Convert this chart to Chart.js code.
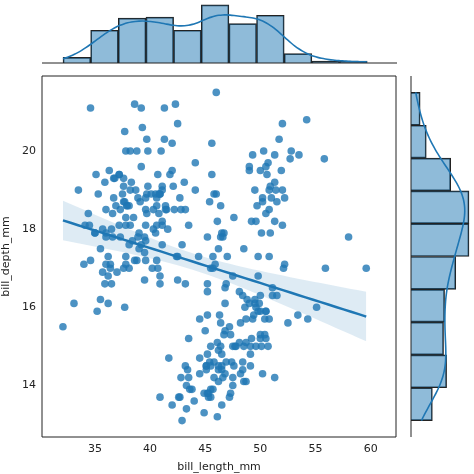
<!DOCTYPE html>
<html>
<head>
<meta charset="utf-8">
<script src="https://cdn.jsdelivr.net/npm/chart.js@4"></script>
<style>
  body { margin: 0; background: #fff; }
  .box { position: absolute; }
</style>
</head>
<body>
<div class="box" style="left:0;top:0;width:400px;height:70px"><canvas id="top"></canvas></div>
<div class="box" style="left:0;top:66px;width:400px;height:408px"><canvas id="main"></canvas></div>
<div class="box" style="left:400px;top:66px;width:74px;height:408px"><canvas id="right"></canvas></div>
<script>
// penguins: bill_length_mm, bill_depth_mm (pairs)
var billLength = [39.1,39.5,40.3,36.7,39.3,38.9,39.2,34.1,42,37.8,37.8,41.1,38.6,34.6,36.6,38.7,42.5,34.4,46,37.8,37.7,35.9,38.2,38.8,35.3,40.6,40.5,37.9,40.5,39.5,37.2,39.5,40.9,36.4,39.2,38.8,42.2,37.6,39.8,36.5,40.8,36,44.1,37,39.6,41.1,37.5,36,42.3,39.6,40.1,35,42,34.5,41.4,39,40.6,36.5,37.6,35.7,41.3,37.6,41.1,36.4,41.6,35.5,41.1,35.9,41.8,33.5,39.7,39.6,45.8,35.5,42.8,40.9,37.2,36.2,42.1,34.6,42.9,36.7,35.1,37.3,41.3,36.3,36.9,38.3,38.9,35.7,41.1,34,39.6,36.2,40.8,38.1,40.3,33.1,43.2,35,41,37.7,37.8,37.9,39.7,38.6,38.2,38.1,37.2,38.2,32.1,40.6,36.6,36,37.8,36,41.5,38.1,40.2,39.8,35.2,44.1,39.2,43.1,37.3,41.4,36.2,40.7,40.6,37.7,40.7,39,38.4,39.7,40.9,36.8,37.6,45.6,42.7,38.5,39.6,
46.5,50,51.3,45.4,52.7,45.2,46.1,51.3,46,51.3,46.6,51.7,47,52,45.9,50.5,50.3,58,46.4,49.2,42.4,48.5,43.2,50.6,46.7,52,50.5,49.5,46.4,52.8,40.9,54.2,42.5,51,49.7,47.5,47.6,52,46.9,53.5,49,46.2,50.9,45.5,50.9,50.8,50.1,49,51.5,49.8,48.1,51.4,45.7,50.7,42.5,52.2,45.2,49.3,50.2,45.6,51.9,46.8,45.7,55.8,43.5,49.6,50.8,50.2,
46.1,50,48.7,50,47.6,46.5,45.4,46.7,43.3,46.8,40.9,49,45.5,48.4,45.8,49.3,42,49.2,46.2,48.7,50.2,45.1,46.5,46.3,42.9,46.1,44.5,47.8,48.2,50,47.3,42.8,45.1,59.6,49.1,48.4,42.6,44.4,44,48.7,42.7,49.6,45.3,49.6,50.5,43.6,45.5,50.5,44.9,45.2,46.6,48.5,45.1,50.1,46.5,45,43.8,45.5,43.2,50.4,45.3,46.2,45.7,54.3,45.8,49.8,46.2,49.5,43.5,50.7,47.7,46.4,48.2,46.5,46.4,48.6,47.5,51.1,45.2,45.2,49.1,52.5,47.4,50,44.9,50.8,43.4,51.3,47.5,52.1,47.5,52.2,45.5,49.5,44.5,50.8,49.4,46.9,48.4,51.1,48.5,55.9,47.2,49.1,47.3,46.8,41.7,53.4,43.3,48.1,50.5,49.8,43.5,51.5,46.2,55.1,44.5,48.8,47.2,46.8,50.4,45.2,49.9];
var billDepth = [18.7,17.4,18,19.3,20.6,17.8,19.6,18.1,20.2,17.1,17.3,17.6,21.2,21.1,17.8,19,20.7,18.4,21.5,18.3,18.7,19.2,18.1,17.2,18.9,18.6,17.9,18.6,18.9,16.7,18.1,17.8,18.9,17,21.1,20,18.5,19.3,19.1,18,18.4,18.5,19.7,16.9,18.8,19,18.9,17.9,21.2,17.7,18.9,17.9,19.5,18.1,18.6,17.5,18.8,16.6,19.1,16.9,21.1,17,18.2,17.1,18,16.2,19.1,16.6,19.4,19,18.4,17.2,18.9,17.5,18.5,16.8,19.4,16.1,19.1,17.2,17.6,18.8,19.4,17.8,20.3,19.5,18.6,19.2,18.8,18,18.1,17.1,18.1,17.3,18.9,18.6,18.5,16.1,18.5,17.9,20,16,20,18.6,18.9,17.2,20,17,19.4,19,15.5,17.2,18.4,17.8,18.1,17.1,18.5,17.6,17,20,15.9,19,17.6,19.2,18.5,18.5,16.8,17,18.1,20.5,19.4,17.9,17.7,20.3,18.9,19.3,18.7,20.2,18.8,18.3,18.5,
17.9,19.5,19.2,18.7,19.8,17.8,18.2,18.2,18.9,19.9,17.8,20.3,17.3,18.1,17.1,19.6,20,17.8,18.6,18.2,17.3,17.5,16.6,19.4,17.9,19,18.4,19,17.8,20,16.6,20.8,16.7,18.8,18.6,16.8,18.3,20.7,16.6,19.9,19.5,17.5,19.1,17,17.9,18.5,17.9,19.6,18.7,17.3,16.4,19,17.3,19.7,17.3,18.8,16.6,19.9,18.8,19.4,19.5,16.5,17,19.8,18.1,18.2,19,18.7,
13.2,16.3,14.1,15.2,14.5,13.5,14.6,15.3,13.4,15.4,13.7,16.1,13.7,14.6,14.6,15.7,13.5,15.2,14.5,15.1,14.3,14.5,14.5,15.8,13.1,15.1,14.3,15,14.3,15.3,15.3,14.2,14.5,17,14.8,16.3,13.7,17.3,13.6,15.7,13.7,16,13.7,15,15.9,13.9,13.9,15.9,13.3,15.8,14.2,14.1,14.4,15,14.4,15.4,13.9,15,14.5,15.3,13.8,14.9,13.9,15.7,14.2,16.8,14.4,16.2,14.2,15,15,15.6,15.6,14.8,15,16,14.2,16.3,13.8,16.4,14.5,15.6,14.6,15.9,13.8,17.3,14.4,14.2,14,17,15,17.1,14.5,16.1,14.7,15.7,15.8,14.6,14.4,16.5,15,17,15.5,15,13.8,16.1,14.7,15.8,14,15.1,15.2,15.9,15.2,16.3,14.1,16,15.7,16.2,13.7,14.3,15.7,14.8,16.1];

// marginal histograms
var lengthEdges = [32.1,34.6,37.1,39.6,42.1,44.6,47.1,49.6,52.1,54.6,57.1,59.6];
var lengthCounts = [6,35,48,49,35,62,42,51,10,2,2];
var depthEdges = [13.1,13.94,14.78,15.62,16.46,17.3,18.14,18.98,19.82,20.66,21.5];
var depthCounts = [21,35,32,33,44,57,57,39,15,9];

var xTicks = [35,40,45,50,55,60];
var yTicks = [14,16,18,20];

var BLUE = '#1f77b4';
var X_MIN = 30.2, X_MAX = 62.3, Y_MIN = 12.68, Y_MAX = 21.92;

Chart.defaults.font.family = 'DejaVu Sans';
Chart.defaults.font.size = 11;
Chart.defaults.color = '#222';
Chart.defaults.animation = false;

// least squares fit + 95% band
var n = billLength.length;
var mx = billLength.reduce((a, b) => a + b, 0) / n;
var my = billDepth.reduce((a, b) => a + b, 0) / n;
var sxx = 0, sxy = 0;
for (var i = 0; i < n; i++) { sxx += (billLength[i] - mx) ** 2; sxy += (billLength[i] - mx) * (billDepth[i] - my); }
var slope = sxy / sxx, icpt = my - slope * mx;
var sse = 0;
for (var i = 0; i < n; i++) sse += (billDepth[i] - icpt - slope * billLength[i]) ** 2;
var s = Math.sqrt(sse / (n - 2));
var fitX = [], fitY = [], upY = [], loY = [];
for (var k = 0; k <= 40; k++) {
  var x = 32.1 + (59.6 - 32.1) * k / 40;
  var y = icpt + slope * x;
  var se = 1.97 * s * Math.sqrt(1 / n + (x - mx) ** 2 / sxx);
  fitX.push(x); fitY.push(y); upY.push(y + se); loY.push(y - se);
}

// gaussian kde scaled to counts
function kde(vals, lo, hi, bw) {
  var mean = vals.reduce((p, q) => p + q, 0) / vals.length;
  var sd = Math.sqrt(vals.reduce((a, v) => a + (v - mean) ** 2, 0) / (vals.length - 1));
  var h = sd * Math.pow(vals.length, -0.2);
  var out = [];
  for (var k = 0; k <= 80; k++) {
    var x = lo + (hi - lo) * k / 80, d = 0;
    vals.forEach(v => { d += Math.exp(-0.5 * ((x - v) / h) ** 2); });
    d = d / (vals.length * h * Math.sqrt(2 * Math.PI));
    out.push({ x: x, d: d * vals.length * bw });
  }
  return out;
}

var boxPlugin = {
  id: 'box',
  afterDraw(chart, args, opts) {
    var a = chart.chartArea, c = chart.ctx;
    c.save(); c.strokeStyle = '#222'; c.lineWidth = 1; c.beginPath();
    if (opts.sides.includes('l')) { c.moveTo(a.left, a.top); c.lineTo(a.left, a.bottom); }
    if (opts.sides.includes('b')) { c.moveTo(a.left, a.bottom); c.lineTo(a.right, a.bottom); }
    if (opts.sides.includes('t')) { c.moveTo(a.left, a.top); c.lineTo(a.right, a.top); }
    if (opts.sides.includes('r')) { c.moveTo(a.right, a.top); c.lineTo(a.right, a.bottom); }
    c.stroke(); c.restore();
  }
};

function fixedTicks(list) {
  return function (scale) { scale.ticks = list.map(v => ({ value: v })); };
}

// main scatter
new Chart(document.getElementById('main'), {
  type: 'scatter',
  data: {
    datasets: [
      { data: fitX.map((x, i) => ({ x: x, y: upY[i] })), type: 'line', borderWidth: 0, pointRadius: 0, fill: '+1', backgroundColor: 'rgba(31,119,180,0.15)' },
      { data: fitX.map((x, i) => ({ x: x, y: loY[i] })), type: 'line', borderWidth: 0, pointRadius: 0, fill: false },
      { data: billLength.map((x, i) => ({ x: x, y: billDepth[i] })), pointRadius: 3.8, backgroundColor: 'rgba(31,119,180,0.8)', borderWidth: 0 },
      { data: fitX.map((x, i) => ({ x: x, y: fitY[i] })), type: 'line', borderColor: BLUE, borderWidth: 2.5, pointRadius: 0, fill: false }
    ]
  },
  options: {
    responsive: true, maintainAspectRatio: false,
    layout: { padding: { top: 10, right: 3, left: 0, bottom: 0 } },
    plugins: { legend: { display: false }, tooltip: { enabled: false }, box: { sides: 'lbtr' } },
    scales: {
      x: {
        type: 'linear', min: X_MIN, max: X_MAX,
        afterBuildTicks: fixedTicks(xTicks),
        grid: { display: false, drawTicks: true, tickLength: 4, tickColor: '#222' },
        border: { display: false },
        ticks: { padding: 2, font: { size: 11 } },
        title: { display: true, text: 'bill_length_mm', padding: { top: 1, bottom: 0 }, font: { size: 11 } },
        afterFit(sc) { sc.height = 37; }
      },
      y: {
        type: 'linear', min: Y_MIN, max: Y_MAX,
        afterBuildTicks: fixedTicks(yTicks),
        grid: { display: false, tickLength: 4, tickColor: '#222' },
        border: { display: false },
        ticks: { padding: 2, font: { size: 11 } },
        title: { display: true, text: 'bill_depth_mm', padding: { top: 0, bottom: 2 }, font: { size: 11 } },
        afterFit(sc) { sc.width = 42; }
      }
    }
  },
  plugins: [boxPlugin]
});

// top marginal
var lenKde = kde(billLength, 32.1, 59.6, 2.5);
new Chart(document.getElementById('top'), {
  type: 'bar',
  data: {
    datasets: [
      { type: 'line', data: lenKde.map(p => ({ x: p.x, y: p.d })), borderColor: BLUE, borderWidth: 1.6, pointRadius: 0, tension: 0.3 },
      { data: lengthCounts.map((c, i) => ({ x: (lengthEdges[i] + lengthEdges[i + 1]) / 2, y: c })), backgroundColor: 'rgba(31,119,180,0.5)', borderColor: '#222', borderWidth: 1, barPercentage: 1, categoryPercentage: 1, grouped: false }
    ]
  },
  options: {
    responsive: true, maintainAspectRatio: false,
    layout: { padding: { top: 4, right: 3, left: 42, bottom: 0 } },
    plugins: { legend: { display: false }, tooltip: { enabled: false }, box: { sides: 'b' } },
    scales: {
      x: { type: 'linear', offset: false, min: X_MIN, max: X_MAX, afterBuildTicks: fixedTicks(xTicks), grid: { display: false, offset: false, tickLength: 4, tickColor: '#222' }, border: { display: false }, ticks: { display: false }, afterFit(sc) { sc.height = 7; } },
      y: { display: false, min: 0, max: 63 }
    }
  },
  plugins: [boxPlugin]
});

// right marginal
var depKde = kde(billDepth, 13.1, 21.5, 0.84);
new Chart(document.getElementById('right'), {
  type: 'bar',
  data: {
    datasets: [
      { type: 'line', data: depKde.map(p => ({ y: p.x, x: p.d })), borderColor: BLUE, borderWidth: 1.6, pointRadius: 0, tension: 0.3, indexAxis: 'y' },
      { data: depthCounts.map((c, i) => ({ y: (depthEdges[i] + depthEdges[i + 1]) / 2, x: c })), backgroundColor: 'rgba(31,119,180,0.5)', borderColor: '#222', borderWidth: 1, barPercentage: 1, categoryPercentage: 1, grouped: false }
    ]
  },
  options: {
    indexAxis: 'y',
    responsive: true, maintainAspectRatio: false,
    layout: { padding: { top: 10, right: 4, left: 0, bottom: 37 } },
    plugins: { legend: { display: false }, tooltip: { enabled: false }, box: { sides: 'l' } },
    scales: {
      y: { type: 'linear', offset: false, min: Y_MIN, max: Y_MAX, afterBuildTicks: fixedTicks(yTicks), grid: { display: false, offset: false, tickLength: 4, tickColor: '#222' }, border: { display: false }, ticks: { display: false }, afterFit(sc) { sc.width = 11; } },
      x: { display: false, min: 0, max: 58 }
    }
  },
  plugins: [boxPlugin]
});
</script>
</body>
</html>
